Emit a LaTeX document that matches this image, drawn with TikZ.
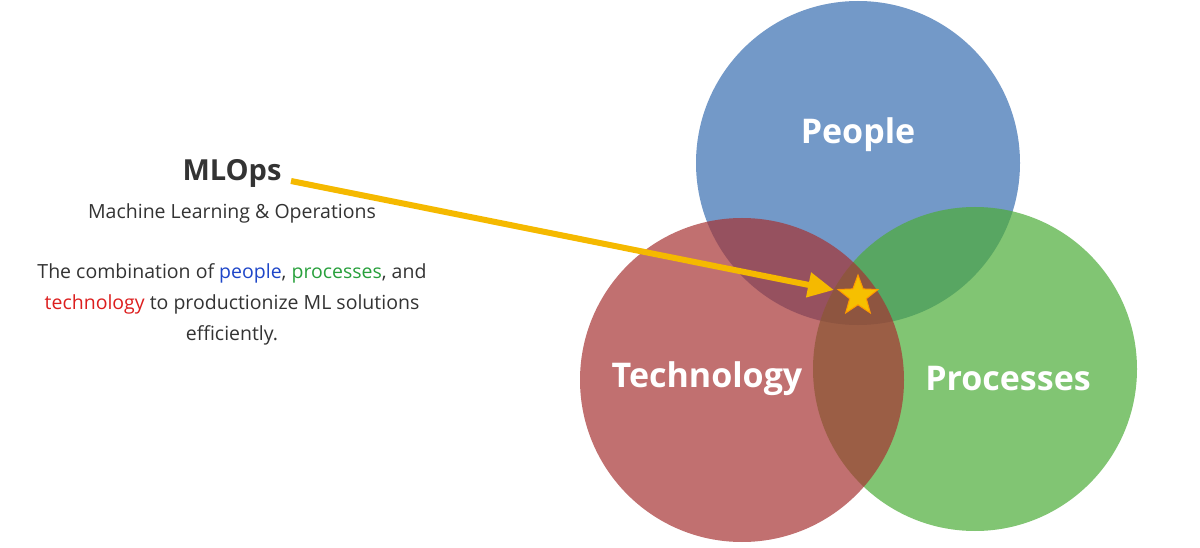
\documentclass[tikz,border=0pt]{standalone}
\usepackage{fontspec}
\setmainfont{Open Sans}
\usetikzlibrary{shapes.geometric,arrows.meta}
\definecolor{cblue}{RGB}{56,109,176}
\definecolor{cred}{RGB}{166,51,51}
\definecolor{cgreen}{RGB}{76,172,55}
\definecolor{gold}{RGB}{245,185,0}
\definecolor{tblue}{RGB}{30,70,200}
\definecolor{tgreen}{RGB}{40,160,60}
\definecolor{tred}{RGB}{220,30,30}
\definecolor{tgray}{RGB}{51,51,51}
\begin{document}
\begin{tikzpicture}[x=1pt,y=-1pt,
  circ/.style={circle,minimum size=324pt,inner sep=0pt,fill opacity=0.7},
  lbl/.style={text=white,font=\fontsize{34}{38}\selectfont\bfseries},
  body/.style={text=tgray,font=\fontsize{19.5}{31}\selectfont,align=center}]
\useasboundingbox (0,0) rectangle (1200,548);
\node[circ,fill=cblue] (people) at (858,163) {};
\node[circ,fill=cgreen] (proc) at (975,369) {};
\node[circ,fill=cred] (tech) at (742,380) {};
\node[lbl] at (858,135) {People};
\node[lbl] at (707,379) {Technology};
\node[lbl] at (1008,379) {Processes};
\node[text=tgray,font=\fontsize{29}{32}\selectfont\bfseries] (mlops) at (232,173) {MLOps};
\node[body] (sub) at (232,213) {Machine Learning \& Operations};
\node[body] (para) at (232,304) {The combination of \textcolor{tblue}{people}, \textcolor{tgreen}{processes}, and\\
\textcolor{tred}{technology} to productionize ML solutions\\ efficiently.};
\node[star,star points=5,star point ratio=2.4,fill=gold!90!yellow,draw=orange!80!yellow,line width=1pt,minimum size=42pt,inner sep=0pt] (star) at (858,296) {};
\draw[gold,line width=6pt,-{Triangle[length=26pt,width=24pt]}] (mlops.east) ++(6,8) coordinate (a) (a) -- (834,290);
\end{tikzpicture}
\end{document}
